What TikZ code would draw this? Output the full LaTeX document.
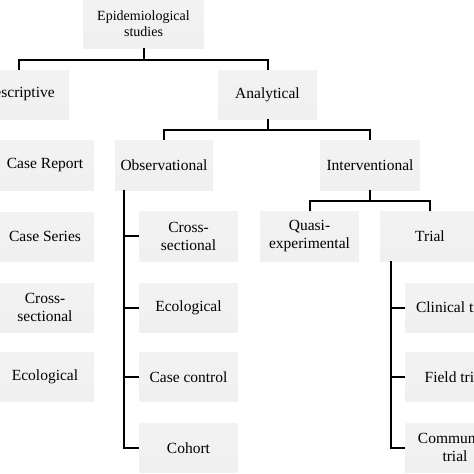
\documentclass[tikz,border=0pt]{standalone}
\usepackage{fontspec}
\setmainfont{Liberation Serif}
\usetikzlibrary{calc}
\tikzset{
  box/.style={minimum width=98pt, minimum height=49pt, inner sep=0pt, align=center,
    top color=gray!10, middle color=gray!3, bottom color=gray!12, text=black,
    font=\fontsize{15.5}{18}\selectfont},
  conn/.style={draw=black, line width=2pt}
}
\begin{document}
\begin{tikzpicture}[x=1pt,y=-1pt]
\useasboundingbox (0,0) rectangle (474,474);
\clip (0,0) rectangle (474,474);
% level 0
\node[box, minimum width=121pt, minimum height=48pt, font=\fontsize{14}{15.7}\selectfont] (epi) at (143.5,24) {Epidemiological\\studies};
% level 1
\node[box, minimum width=100pt] (desc) at (19,94.5) {Descriptive};
\node[box, minimum width=99pt] (ana) at (267.5,94.5) {Analytical};
% level 2
\node[box, minimum height=50pt] (obs) at (164,165) {Observational};
\node[box, minimum width=100pt, minimum height=50pt] (int) at (370,165) {Interventional};
% descriptive children
\node[box, minimum height=50pt] (cr) at (45,165) {Case Report};
\node[box] (cs) at (45,236.5) {Case Series};
\node[box] (dxs) at (45,307.5) {Cross-\\sectional};
\node[box] (deco) at (45,377) {Ecological};
% observational children
\node[box, minimum height=50pt] (ox) at (188.5,236) {Cross-\\sectional};
\node[box] (oe) at (188.5,307.5) {Ecological};
\node[box] (occ) at (188.5,377) {Case control};
\node[box] (oco) at (188.5,448) {Cohort};
% interventional children
\node[box, minimum width=99pt, minimum height=50pt] (qe) at (309.5,236) {Quasi-\\experimental};
\node[box, minimum width=100pt, minimum height=50pt] (tr) at (430,236) {Trial};
% trial children
\node[box, minimum width=100pt] (ct) at (455,307.5) {Clinical trial};
\node[box, minimum width=100pt] (ft) at (455,377) {Field trial};
\node[box, minimum width=100pt] (cm) at (455,447.5) {Community\\trial};
% connectors
\coordinate (l1) at (143.5,60);
\draw[conn] (epi.south) -- (l1);
\draw[conn] (desc.north) |- (l1) -| (ana.north);
\coordinate (l2) at (267.5,130);
\draw[conn] (ana.south) -- (l2);
\draw[conn] (obs.north) |- (l2) -| (int.north);
\coordinate (l3) at (370,201);
\draw[conn] (int.south) -- (l3);
\draw[conn] (qe.north) |- (l3) -| (tr.north);
% observational trunk
\coordinate (ot) at ($(obs.south)+(-40,0)$);
\draw[conn] (ot) |- (oco.west);
\draw[conn] (ox.west) -- (ox.west -| ot);
\draw[conn] (oe.west) -- (oe.west -| ot);
\draw[conn] (occ.west) -- (occ.west -| ot);
% trial trunk
\coordinate (tt) at ($(tr.south)+(-39,0)$);
\draw[conn] (tt) |- (cm.west);
\draw[conn] (ct.west) -- (ct.west -| tt);
\draw[conn] (ft.west) -- (ft.west -| tt);
\end{tikzpicture}
\end{document}
